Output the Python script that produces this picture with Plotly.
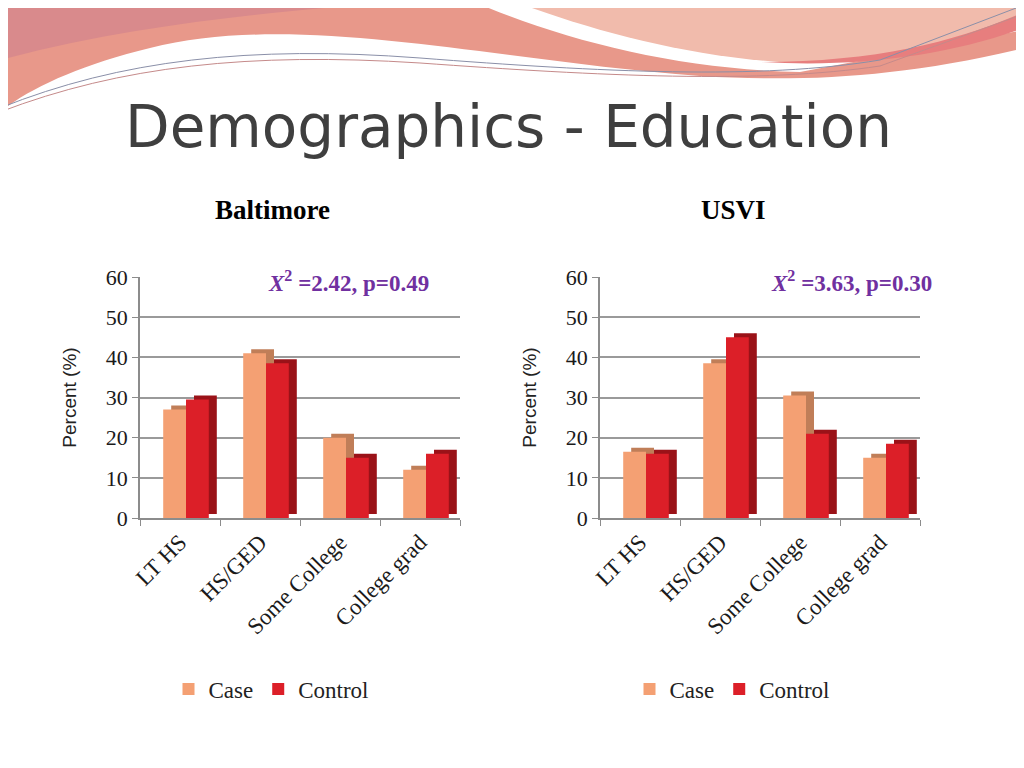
import plotly.graph_objects as go

# -------------------------------------------------
# Data
# -------------------------------------------------
categories = ["LT HS", "HS/GED", "Some College", "College grad"]
series_names = ["Case", "Control"]

baltimore_case = [27, 41, 20, 12]
baltimore_control = [29.5, 38.5, 15, 16]

usvi_case = [16.5, 38.5, 30.5, 15]
usvi_control = [16, 45, 21, 18.5]

y_ticks = [0, 10, 20, 30, 40, 50, 60]
baltimore_stat = "<i>X</i><sup>2</sup> =2.42, p=0.49"
usvi_stat = "<i>X</i><sup>2</sup> =3.63, p=0.30"

# -------------------------------------------------
# Styling
# -------------------------------------------------
W, H = 1024, 768
OFF = 8  # page body margin, the figure is drawn 8px in from the corner
SERIF = "Liberation Serif, DejaVu Serif, serif"
SANS = "Liberation Sans, DejaVu Sans, sans-serif"
front_colors = {"Case": "#F4A073", "Control": "#DC1F28"}
side_colors = {"Case": "#C07E58", "Control": "#9A1218"}
bar_offset = {"Case": -0.21, "Control": 0.075}
bar_width = 0.285
depth_x = 0.1    # category units, fake 3d side
depth_y = 1.0    # value units, fake 3d top


def fx(x):
    return (x - OFF) / W


def fy(y):
    return 1 - (y - OFF) / H


def path(points):
    parts = []
    for cmd, *xy in points:
        coords = [f"{fx(xy[i]):.4f},{fy(xy[i + 1]):.4f}" for i in range(0, len(xy), 2)]
        parts.append((cmd + " " + " ".join(coords)).strip())
    return " ".join(parts)


fig = go.Figure()


def add_panel(case_vals, control_vals, xa, ya, legend):
    for name, vals in (("Case", case_vals), ("Control", control_vals)):
        # side/top of the 3d box
        fig.add_trace(go.Bar(
            x=categories, y=vals, base=depth_y,
            offset=bar_offset[name] + depth_x, width=bar_width,
            marker=dict(color=side_colors[name], line=dict(width=0)),
            showlegend=False, hoverinfo="skip",
            xaxis=xa, yaxis=ya,
        ))
        # front face
        fig.add_trace(go.Bar(
            x=categories, y=vals, name=name,
            offset=bar_offset[name], width=bar_width,
            marker=dict(color=front_colors[name], line=dict(width=0)),
            xaxis=xa, yaxis=ya, legend=legend,
        ))


add_panel(baltimore_case, baltimore_control, "x", "y", "legend")
add_panel(usvi_case, usvi_control, "x2", "y2", "legend2")

x_common = dict(
    type="category", range=[-0.5, 3.5], automargin=False,
    showline=True, linecolor="#8C8C8C", linewidth=1.5,
    ticks="outside", tickson="boundaries", ticklen=6, tickcolor="#8C8C8C",
    tickangle=-45, tickfont=dict(family=SERIF, size=23, color="#1A1A1A"),
    showgrid=False, zeroline=False,
)
y_common = dict(
    range=[0, 60], tickvals=y_ticks, automargin=False,
    showline=True, linecolor="#8C8C8C", linewidth=1.5,
    ticks="outside", ticklen=6, tickcolor="#8C8C8C",
    tickfont=dict(family=SERIF, size=22, color="#1A1A1A"),
    showgrid=True, gridcolor="#9A9A9A", gridwidth=1.5,
    zeroline=False,
    title=dict(text="Percent (%)", font=dict(family=SANS, size=19, color="#222222"),
               standoff=24),
)

y_dom = [fy(518), fy(277)]
legend_common = dict(
    orientation="h", xanchor="center", yanchor="middle", y=fy(689),
    font=dict(family=SERIF, size=23, color="#222222"),
    bgcolor="rgba(0,0,0,0)", itemwidth=30,
)

shapes = [
    # decorative swoosh at the top of the slide
    dict(type="path", xref="paper", yref="paper", layer="below", line=dict(width=0),
         fillcolor="#E8988A",
         path=path([("M", 0, 0), ("L", 470, 0),
                    ("C", 560, 40, 680, 70, 800, 72),
                    ("L", 1024, 30), ("L", 1024, 48),
                    ("C", 900, 78, 800, 82, 700, 76),
                    ("C", 500, 62, 300, 10, 150, 48),
                    ("C", 80, 65, 30, 88, 0, 112), ("Z",)])),
    dict(type="path", xref="paper", yref="paper", layer="below", line=dict(width=0),
         fillcolor="#D98A8C",
         path=path([("M", 0, 0), ("L", 420, 0),
                    ("C", 300, 10, 150, 20, 0, 60), ("Z",)])),
    dict(type="path", xref="paper", yref="paper", layer="below", line=dict(width=0),
         fillcolor="#F1BBAC",
         path=path([("M", 510, 0), ("L", 1024, 0), ("L", 1024, 18),
                    ("C", 950, 48, 850, 64, 780, 62),
                    ("C", 680, 55, 590, 30, 510, 0), ("Z",)])),
    dict(type="path", xref="paper", yref="paper", layer="below", line=dict(width=0),
         fillcolor="#E77E7E",
         path=path([("M", 760, 62), ("C", 880, 62, 960, 40, 1024, 12),
                    ("L", 1024, 28), ("C", 950, 55, 860, 68, 760, 62), ("Z",)])),
    dict(type="path", xref="paper", yref="paper", layer="below",
         line=dict(color="#8A8FA8", width=1),
         path=path([("M", 0, 108), ("C", 120, 60, 250, 45, 420, 58),
                    ("C", 600, 72, 760, 80, 880, 60), ("L", 1024, 5)])),
    dict(type="path", xref="paper", yref="paper", layer="below",
         line=dict(color="#C58A8A", width=1),
         path=path([("M", 0, 112), ("C", 120, 66, 250, 52, 420, 63),
                    ("C", 600, 76, 760, 84, 880, 66), ("L", 1024, 14)])),
]


def note(text, x, y, size, color, family=SERIF):
    return dict(text=text, x=fx(x), y=fy(y), xref="paper", yref="paper",
                xanchor="center", yanchor="middle", showarrow=False,
                font=dict(family=family, size=size, color=color))


fig.update_layout(
    width=W, height=H,
    margin=dict(l=0, r=0, t=0, b=0, autoexpand=False),
    paper_bgcolor="white", plot_bgcolor="rgba(0,0,0,0)",
    barmode="overlay",
    xaxis=dict(domain=[fx(140), fx(460)], anchor="y", **x_common),
    yaxis=dict(domain=y_dom, anchor="x", **y_common),
    xaxis2=dict(domain=[fx(600), fx(920)], anchor="y2", **x_common),
    yaxis2=dict(domain=y_dom, anchor="x2", **y_common),
    legend=dict(x=fx(271), **legend_common),
    legend2=dict(x=fx(732), **legend_common),
    shapes=shapes,
    annotations=[
        note("Demographics - Education", 508, 127, 58, "#3F3F3F", "DejaVu Sans"),
        note("<b>Baltimore</b>", 272, 210, 27, "black"),
        note("<b>USVI</b>", 733, 210, 27, "black"),
        note("<b>" + baltimore_stat + "</b>", 348, 281, 23, "#7030A0"),
        note("<b>" + usvi_stat + "</b>", 851, 281, 23, "#7030A0"),
    ],
)

fig.write_html("out.html")
